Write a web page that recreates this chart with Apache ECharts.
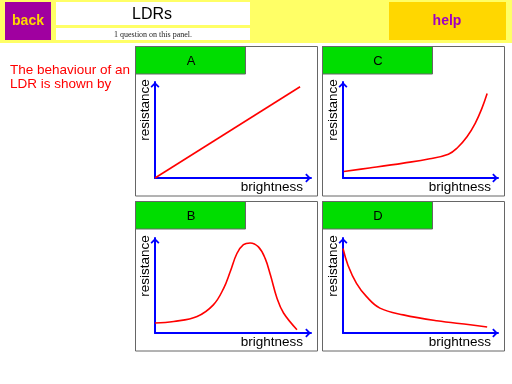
<!DOCTYPE html>
<html>
<head>
<meta charset="utf-8">
<script src="https://cdn.jsdelivr.net/npm/echarts@6/dist/echarts.min.js"></script>
<style>html,body{margin:0;padding:0;background:#fff;}#c{width:512px;height:384px;}</style>
</head>
<body>
<div id="c"></div>
<script>
// Data (axis units 0..100, origin at the axis corner)
const panelLabels = ['A', 'C', 'B', 'D'];
const curveA = [[0, 0], [93, 95]];
const curveC = [[0.5, 6.8], [17, 10.4], [39, 15.5], [56, 20], [68, 24.8], [73.5, 31], [80, 43], [85.3, 57], [89.6, 72.5], [93, 88]];
const curveB = [[0, 10.5], [12, 12.1], [27, 17.4], [37.4, 29.6], [44, 47], [48.2, 64.4], [52.5, 83.7], [56.7, 93], [61, 94.8], [66.3, 90.6], [70.6, 78.5], [74, 61], [78.2, 36.6], [82.4, 21], [91, 3.5]];
const curveD = [[0, 88.9], [3.2, 71.4], [8.7, 52.3], [15.2, 38.3], [23.8, 26.2], [38.9, 19.1], [60.5, 12.9], [82, 8.7], [93, 6.3]];
const curves = [curveA, curveC, curveB, curveD];
const xAxisName = 'brightness';
const yAxisName = 'resistance';

// Layout
const panels = [
  {x: 136, y: 47, axisX: 155, top: 82, w: 156, h: 96},
  {x: 323, y: 47, axisX: 343, top: 82, w: 155, h: 96},
  {x: 136, y: 202, axisX: 155, top: 238, w: 156, h: 95},
  {x: 323, y: 202, axisX: 343, top: 238, w: 155, h: 95}
];
const chevron = 'path://M5,0 L10,5 L8.6,6.4 L5,2.8 L1.4,6.4 L0,5 Z';
const font = 'Liberation Sans, Arial, sans-serif';

const graphic = [
  {type: 'rect', shape: {x: 0, y: 0, width: 512, height: 43}, style: {fill: '#ffff66'}, z: 0},
  {type: 'rect', shape: {x: 5, y: 2, width: 46, height: 38}, style: {fill: '#a000a0'}, z: 1},
  {type: 'text', x: 28, y: 21, style: {text: 'back', fill: '#ffd700', font: 'bold 14px ' + font, align: 'center', verticalAlign: 'middle'}, z: 2},
  {type: 'rect', shape: {x: 56, y: 2, width: 194, height: 23}, style: {fill: '#ffffff'}, z: 1},
  {type: 'text', x: 152, y: 14.5, style: {text: 'LDRs', fill: '#000', font: '16px ' + font, align: 'center', verticalAlign: 'middle'}, z: 2},
  {type: 'rect', shape: {x: 56, y: 28, width: 194, height: 12}, style: {fill: '#ffffff'}, z: 1},
  {type: 'text', x: 153, y: 34.5, style: {text: '1 question on this panel.', fill: '#222', font: '8px Liberation Serif, serif', align: 'center', verticalAlign: 'middle'}, z: 2},
  {type: 'rect', shape: {x: 389, y: 2, width: 117, height: 38}, style: {fill: '#ffd700'}, z: 1},
  {type: 'text', x: 447, y: 21, style: {text: 'help', fill: '#a000c0', font: 'bold 14px ' + font, align: 'center', verticalAlign: 'middle'}, z: 2},
  {type: 'text', x: 10, y: 70, style: {text: 'The behaviour of an', fill: '#ff0000', font: '13.5px ' + font, align: 'left', verticalAlign: 'middle'}, z: 2},
  {type: 'text', x: 10, y: 84.5, style: {text: 'LDR is shown by', fill: '#ff0000', font: '13.5px ' + font, align: 'left', verticalAlign: 'middle'}, z: 2}
];

panels.forEach(function (p, i) {
  graphic.push({type: 'rect', shape: {x: p.x - 0.5, y: p.y - 0.5, width: 182, height: 149.5}, style: {fill: '#fff', stroke: '#666', lineWidth: 1}, z: 0});
  graphic.push({type: 'rect', shape: {x: p.x - 0.5, y: p.y - 0.5, width: 110, height: 27.5}, style: {fill: '#00dd00', stroke: '#666', lineWidth: 1}, z: 1});
  graphic.push({type: 'text', x: p.x + 55, y: p.y + 14, style: {text: panelLabels[i], fill: '#000', font: '13px ' + font, align: 'center', verticalAlign: 'middle'}, z: 2});
  graphic.push({type: 'text', x: p.axisX - 10, y: p.top + 28, rotation: Math.PI / 2, style: {text: yAxisName, fill: '#000', font: '13.5px ' + font, align: 'center', verticalAlign: 'middle'}, z: 2});
  graphic.push({type: 'text', x: p.axisX + 148, y: p.top + p.h + 9, style: {text: xAxisName, fill: '#000', font: '13.5px ' + font, align: 'right', verticalAlign: 'middle'}, z: 2});
});

const axisLine = {show: true, onZero: false, symbol: ['none', chevron], symbolSize: [9, 5.8], symbolOffset: [0, -2.9], lineStyle: {color: '#0000ff', width: 2}};

const option = {
  animation: false,
  backgroundColor: '#fff',
  graphic: graphic,
  grid: panels.map(function (p) { return {left: p.axisX, top: p.top, width: p.w, height: p.h, containLabel: false}; }),
  xAxis: panels.map(function (p, i) { return {type: 'value', gridIndex: i, min: 0, max: 100, z: 5, axisLine: axisLine, axisTick: {show: false}, axisLabel: {show: false}, splitLine: {show: false}}; }),
  yAxis: panels.map(function (p, i) { return {type: 'value', gridIndex: i, min: 0, max: 100, z: 5, axisLine: axisLine, axisTick: {show: false}, axisLabel: {show: false}, splitLine: {show: false}}; }),
  series: curves.map(function (c, i) {
    return {type: 'line', xAxisIndex: i, yAxisIndex: i, data: c, smooth: i === 0 ? false : 0.4, showSymbol: false, clip: false, z: 6,
      lineStyle: {color: '#ff0000', width: 1.6}};
  })
};
echarts.init(document.getElementById('c')).setOption(option);
</script>
</body>
</html>
